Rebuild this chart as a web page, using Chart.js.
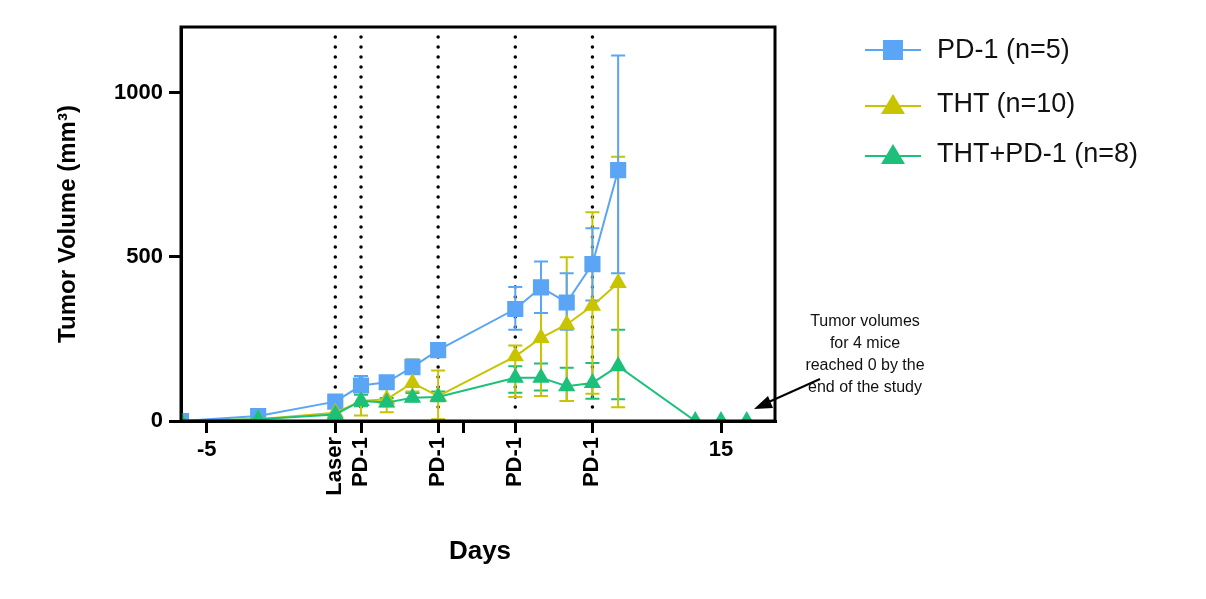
<!DOCTYPE html>
<html><head><meta charset="utf-8">
<script src="https://cdn.jsdelivr.net/npm/chart.js@4"></script>
<style>
body{margin:0;background:#fff;font-family:Arial,"Liberation Sans",sans-serif}
#wrap{position:relative;width:1206px;height:599px}
.leg{position:absolute;left:865px;font-size:27px;color:#111;display:flex;align-items:center}
.leg svg{margin-right:16px}
#note{position:absolute;left:800px;top:310px;width:130px;text-align:center;font-size:16px;line-height:22px;color:#111}
</style></head><body>
<div id="wrap"><canvas id="c" width="1206" height="599"></canvas>
<div class="leg" style="top:34px"><svg width="56" height="24"><line x1="0" y1="12" x2="56" y2="12" stroke="#5aa5f5" stroke-width="2"/><rect x="18" y="2" width="20" height="20" fill="#5aa5f5"/></svg>PD-1 (n=5)</div>
<div class="leg" style="top:88px"><svg width="56" height="24"><line x1="0" y1="14" x2="56" y2="14" stroke="#c8c400" stroke-width="2"/><polygon points="28,2 40,22 16,22" fill="#c8c400"/></svg>THT (n=10)</div>
<div class="leg" style="top:138px"><svg width="56" height="24"><line x1="0" y1="14" x2="56" y2="14" stroke="#1cc07a" stroke-width="2"/><polygon points="28,2 40,22 16,22" fill="#1cc07a"/></svg>THT+PD-1 (n=8)</div>
<div id="note">Tumor volumes for 4 mice reached 0 by the end of the study</div>
</div>
<script>
const pdDays=[-6,-3,0,1,2,3,4,7,8,9,10,11];
const pdVals=[0,15,59,108,118,164,216,341,407,361,478,764];
const pdHi=[0,15,59,137,130,187,216,408,486,450,587,1113];
const pdLo=[0,15,59,90,108,145,216,278,329,278,367,450];
const thtDays=[-6,-3,0,1,2,3,4,7,8,9,10,11];
const thtVals=[0,5,25,61,66,116,76,197,253,294,351,420];
const thtHi=[0,5,25,100,100,187,154,230,420,499,636,805];
const thtLo=[0,5,25,17,27,90,5,73,76,61,83,42];
const comDays=[-6,-3,0,1,2,3,4,7,8,9,10,11,14,15,16];
const comVals=[0,5,20,61,56,71,73,132,132,106,116,167,0,0,0];
const comHi=[0,5,20,80,70,85,90,167,175,162,177,278,0,0,0];
const comLo=[0,5,20,45,45,60,60,86,93,61,68,66,0,0,0];
const xTicks=[-5,0,1,4,5,7,10,15];
const xTickLabels=["-5","Laser","PD-1","PD-1","","PD-1","PD-1","15"];
const treatDays=[0,1,4,7,10];
const yTicks=[0,500,1000];

const BLUE='#5aa5f5',YEL='#c8c400',GRN='#1cc07a';
function ds(label,days,vals,hi,lo,color,style,r){
  return {label,data:days.map((d,i)=>({x:d,y:vals[i]})),hi,lo,borderColor:color,backgroundColor:color,
  pointStyle:style,pointRadius:r,borderWidth:2,showLine:true,tension:0};
}
const errPlugin={id:'err',beforeDatasetsDraw(ch){
  const c=ch.ctx,xs=ch.scales.x,ys=ch.scales.y,a=ch.chartArea;
  c.save();c.strokeStyle='#000';c.lineWidth=3.5;c.lineCap='round';c.setLineDash([0,10]);
  treatDays.forEach(d=>{const x=xs.getPixelForValue(d);c.beginPath();c.moveTo(x,a.top+10);c.lineTo(x,a.bottom-6);c.stroke();});
  c.restore();
  ch.data.datasets.forEach(s=>{
    c.save();c.strokeStyle=s.borderColor;c.lineWidth=2;
    s.data.forEach((p,i)=>{const x=xs.getPixelForValue(p.x),y1=ys.getPixelForValue(s.hi[i]),y2=ys.getPixelForValue(s.lo[i]);
      if(s.hi[i]===s.lo[i])return;
      c.beginPath();c.moveTo(x,y1);c.lineTo(x,y2);c.moveTo(x-7,y1);c.lineTo(x+7,y1);c.moveTo(x-7,y2);c.lineTo(x+7,y2);c.stroke();});
    c.restore();});
},afterDraw(ch){
  const c=ch.ctx,xs=ch.scales.x,a=ch.chartArea;
  c.save();c.strokeStyle='#000';c.lineWidth=3;c.strokeRect(a.left,a.top,a.right-a.left,a.bottom-a.top);
  c.fillStyle='#000';c.font='bold 22px Arial, "Liberation Sans"';
  xTicks.forEach((v,i)=>{const t=xTickLabels[i];if(!t)return;const x=xs.getPixelForValue(v);
    if(t==='-5'||t==='15'){c.textAlign='center';c.textBaseline='top';c.fillText(t,x,a.bottom+18);}
    else{c.save();c.translate(x,a.bottom+16);c.rotate(-Math.PI/2);c.textAlign='right';c.textBaseline='middle';c.fillText(t,0,0);c.restore();}
  });
  c.font='bold 26px Arial, "Liberation Sans"';c.textAlign='center';c.textBaseline='middle';c.fillText('Days',480,552);
  c.lineWidth=2;c.beginPath();c.moveTo(820,379);c.lineTo(762,405);c.stroke();
  c.beginPath();c.moveTo(754,409);c.lineTo(768,396);c.lineTo(773,408);c.closePath();c.fill();
  c.restore();
}};
new Chart(document.getElementById('c'),{type:'scatter',
data:{datasets:[ds('THT+PD-1 (n=8)',comDays,comVals,comHi,comLo,GRN,'triangle',8),
 ds('THT (n=10)',thtDays,thtVals,thtHi,thtLo,YEL,'triangle',8),
 ds('PD-1 (n=5)',pdDays,pdVals,pdHi,pdLo,BLUE,'rect',10)]},
options:{responsive:false,animation:false,events:[],
 layout:{padding:{left:50,right:431,top:27,bottom:166}},
 plugins:{legend:{display:false},tooltip:{enabled:false}},
 scales:{
  x:{type:'linear',min:-6,max:17.1,afterBuildTicks:s=>{s.ticks=xTicks.map(v=>({value:v}));},
   ticks:{display:false},border:{color:'#000',width:3},grid:{drawOnChartArea:false,color:'#000',lineWidth:3,tickLength:12}},
  y:{min:0,max:1200,afterBuildTicks:s=>{s.ticks=yTicks.map(v=>({value:v}));},
   afterFit:s=>{s.width=131;},
   ticks:{color:'#000',font:{size:22,weight:'bold',family:'Arial, "Liberation Sans"'},padding:6,callback:v=>String(v)},
   border:{color:'#000',width:3},grid:{drawOnChartArea:false,color:'#000',lineWidth:3,tickLength:12},
   title:{display:true,text:'Tumor Volume (mm³)',color:'#000',font:{size:24,weight:'bold',family:'Arial, "Liberation Sans"'},padding:{bottom:8}}}
 }},plugins:[errPlugin]});
</script></body></html>
